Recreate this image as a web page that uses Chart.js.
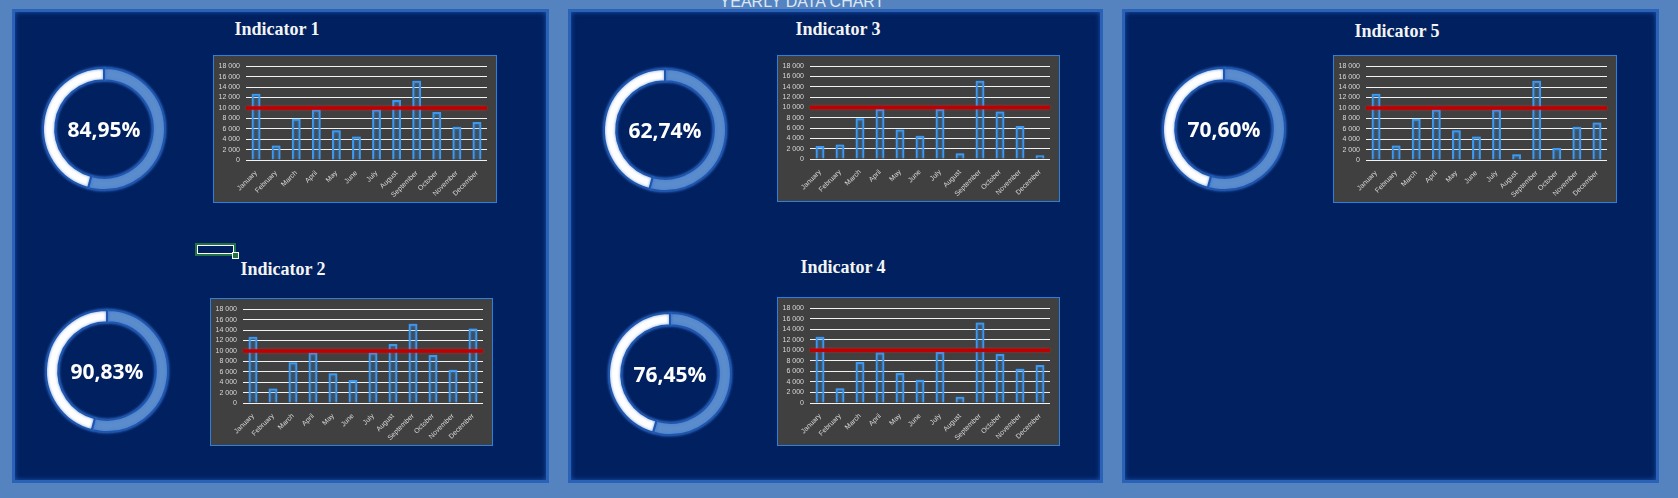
<!DOCTYPE html>
<html>
<head>
<meta charset="utf-8">
<script src="https://cdn.jsdelivr.net/npm/chart.js@4.4.1/dist/chart.umd.min.js"></script>
<style>
  html, body { margin: 0; padding: 0; }
  body {
    width: 1678px; height: 498px; position: relative; overflow: hidden;
    background: #5483c0; font-family: 'Liberation Sans', Arial, sans-serif;
  }
  .panel {
    position: absolute; top: 9px; height: 468px;
    background: #00205f; border: 3px solid #2a62b8;
    box-shadow: inset 0 0 5px #1b55b0;
  }
  .main-title {
    position: absolute; left: 802px; top: -6px; transform: translateX(-50%);
    font-size: 16px; line-height: 16px; color: #dde7f4; white-space: nowrap;
  }
  .title {
    position: absolute; transform: translateX(-50%); white-space: nowrap;
    font-family: 'Liberation Serif', 'DejaVu Serif', serif; font-weight: bold;
    font-size: 18px; line-height: 18px; color: #f4f4f4;
  }
  .bars { position: absolute; background: #404040; border: 1px solid #2e7fd8; }
  .bars canvas { display: block; }
  .donut { position: absolute; width: 130px; height: 130px; }
  .donut canvas { display: block; }
  .pct {
    position: absolute; left: 0; top: 0; width: 130px; height: 130px;
    display: flex; align-items: center; justify-content: center;
    font-family: 'Open Sans', 'Noto Sans', sans-serif; font-weight: bold;
    font-size: 21px; color: #ffffff;
  }
  .cell {
    position: absolute; left: 195px; top: 243px; width: 37px; height: 9px;
    border: 2px solid #217346; box-shadow: inset 0 0 0 1px #ffffff;
  }
  .cell .handle {
    position: absolute; right: -5px; bottom: -5px; width: 5px; height: 5px;
    background: #217346; border: 1px solid #ffffff;
  }
</style>
</head>
<body>

<div class="panel" style="left:12px; width:531px;"></div>
<div class="panel" style="left:568px; width:529px;"></div>
<div class="panel" style="left:1122px; width:531px;"></div>

<div class="main-title">YEARLY DATA CHART</div>

<div class="title" style="left:277px; top:20px;">Indicator 1</div>
<div class="title" style="left:283px; top:260px;">Indicator 2</div>
<div class="title" style="left:838px; top:20px;">Indicator 3</div>
<div class="title" style="left:843px; top:258px;">Indicator 4</div>
<div class="title" style="left:1397px; top:22px;">Indicator 5</div>

<div class="donut" style="left:39px; top:64px;"><canvas id="donut1" width="130" height="130"></canvas><div class="pct" id="pct1"></div></div>
<div class="donut" style="left:42px; top:306px;"><canvas id="donut2" width="130" height="130"></canvas><div class="pct" id="pct2"></div></div>
<div class="donut" style="left:600px; top:65px;"><canvas id="donut3" width="130" height="130"></canvas><div class="pct" id="pct3"></div></div>
<div class="donut" style="left:605px; top:309px;"><canvas id="donut4" width="130" height="130"></canvas><div class="pct" id="pct4"></div></div>
<div class="donut" style="left:1159px; top:64px;"><canvas id="donut5" width="130" height="130"></canvas><div class="pct" id="pct5"></div></div>

<div class="bars" style="left:213px; top:55px;"><canvas id="bars1" width="282" height="146"></canvas></div>
<div class="bars" style="left:210px; top:298px;"><canvas id="bars2" width="281" height="146"></canvas></div>
<div class="bars" style="left:777px; top:55px;"><canvas id="bars3" width="281" height="145"></canvas></div>
<div class="bars" style="left:777px; top:297px;"><canvas id="bars4" width="281" height="147"></canvas></div>
<div class="bars" style="left:1333px; top:55px;"><canvas id="bars5" width="282" height="146"></canvas></div>

<div class="cell"><div class="handle"></div></div>

<script>
const months = ['January', 'February', 'March', 'April', 'May', 'June', 'July',
  'August', 'September', 'October', 'November', 'December'];

const indicator1 = [12700, 2800, 7900, 9700, 5700, 4500, 9700, 11500, 15200, 9200, 6400, 7300];
const indicator2 = [12700, 2800, 7800, 9700, 5700, 4400, 9700, 11300, 15200, 9200, 6400, 14300];
const indicator3 = [2500, 2800, 7900, 9700, 5700, 4500, 9700, 1100, 15200, 9200, 6400, 750];
const indicator4 = [12600, 2800, 7800, 9600, 5700, 4400, 9700, 1200, 15300, 9300, 6500, 7200];
const indicator5 = [12700, 2800, 7900, 9700, 5700, 4500, 9700, 1100, 15200, 2300, 6400, 7200];

const targetValue = 10000;
const yMax = 18000;
const yStep = 2000;

// ring split: [blue part, white part]
const donut1 = [54.2, 45.8];
const donut2 = [54.0, 46.0];
const donut3 = [54.1, 45.9];
const donut4 = [54.5, 45.5];
const donut5 = [54.3, 45.7];

const percentLabels = ['84,95%', '90,83%', '62,74%', '76,45%', '70,60%'];

const tickFont = { family: "'Liberation Sans', Arial, sans-serif", size: 7 };

// red target line across the plot area
const targetLine = {
  id: 'targetLine',
  afterDatasetsDraw(chart) {
    const { ctx, chartArea, scales } = chart;
    const y = scales.y.getPixelForValue(targetValue);
    ctx.save();
    ctx.strokeStyle = '#c00000';
    ctx.lineWidth = 3.5;
    ctx.shadowColor = 'rgba(255,40,40,0.5)';
    ctx.shadowBlur = 3;
    ctx.beginPath();
    ctx.moveTo(chartArea.left, y);
    ctx.lineTo(chartArea.right, y);
    ctx.stroke();
    ctx.restore();
  }
};

// soft glow round bars / rings
const glow = (color, blur) => ({
  id: 'glow',
  beforeDatasetsDraw(chart) {
    chart.ctx.save();
    chart.ctx.shadowColor = color;
    chart.ctx.shadowBlur = blur;
  },
  afterDatasetsDraw(chart) {
    chart.ctx.restore();
  }
});

const spaced = (v) => String(v).replace(/\B(?=(\d{3})+(?!\d))/g, ' ');

function barChart(id, values) {
  new Chart(document.getElementById(id), {
    type: 'bar',
    data: {
      labels: months,
      datasets: [{
        data: values,
        backgroundColor: 'rgba(60,150,240,0.07)',
        borderColor: '#3d99f0',
        borderWidth: 2,
        barPercentage: 0.55,
        categoryPercentage: 0.8,
      }],
    },
    options: {
      responsive: false,
      animation: false,
      layout: { padding: { top: 8, right: 9, left: 0, bottom: 0 } },
      plugins: { legend: { display: false }, tooltip: { enabled: false } },
      scales: {
        x: {
          grid: { display: false },
          border: { display: false },
          ticks: { color: '#d9d9d9', font: tickFont, minRotation: 45, maxRotation: 45, autoSkip: false, padding: 1 },
          afterFit: (s) => { s.height = 42; },
        },
        y: {
          min: 0,
          max: yMax,
          grid: { color: '#f2f2f2', lineWidth: 1, drawTicks: false },
          border: { display: false },
          ticks: { stepSize: yStep, autoSkip: false, color: '#d9d9d9', font: tickFont, padding: 6, callback: spaced },
          afterFit: (s) => { s.width = 32; },
        },
      },
    },
    plugins: [glow('rgba(60,160,255,0.7)', 3), targetLine],
  });
}

function donutChart(id, values, label, pctId) {
  new Chart(document.getElementById(id), {
    type: 'doughnut',
    data: {
      labels: ['done', 'rest'],
      datasets: [{
        data: values,
        backgroundColor: ['#5b8ccc', '#ffffff'],
        borderColor: '#1f56ac',
        borderWidth: 2,
      }],
    },
    options: {
      responsive: false,
      animation: false,
      cutout: '80%',
      layout: { padding: 3 },
      plugins: { legend: { display: false }, tooltip: { enabled: false } },
    },
    plugins: [glow('rgba(60,120,220,0.8)', 3)],
  });
  document.getElementById(pctId).textContent = label;
}

barChart('bars1', indicator1);
barChart('bars2', indicator2);
barChart('bars3', indicator3);
barChart('bars4', indicator4);
barChart('bars5', indicator5);

donutChart('donut1', donut1, percentLabels[0], 'pct1');
donutChart('donut2', donut2, percentLabels[1], 'pct2');
donutChart('donut3', donut3, percentLabels[2], 'pct3');
donutChart('donut4', donut4, percentLabels[3], 'pct4');
donutChart('donut5', donut5, percentLabels[4], 'pct5');
</script>
</body>
</html>
